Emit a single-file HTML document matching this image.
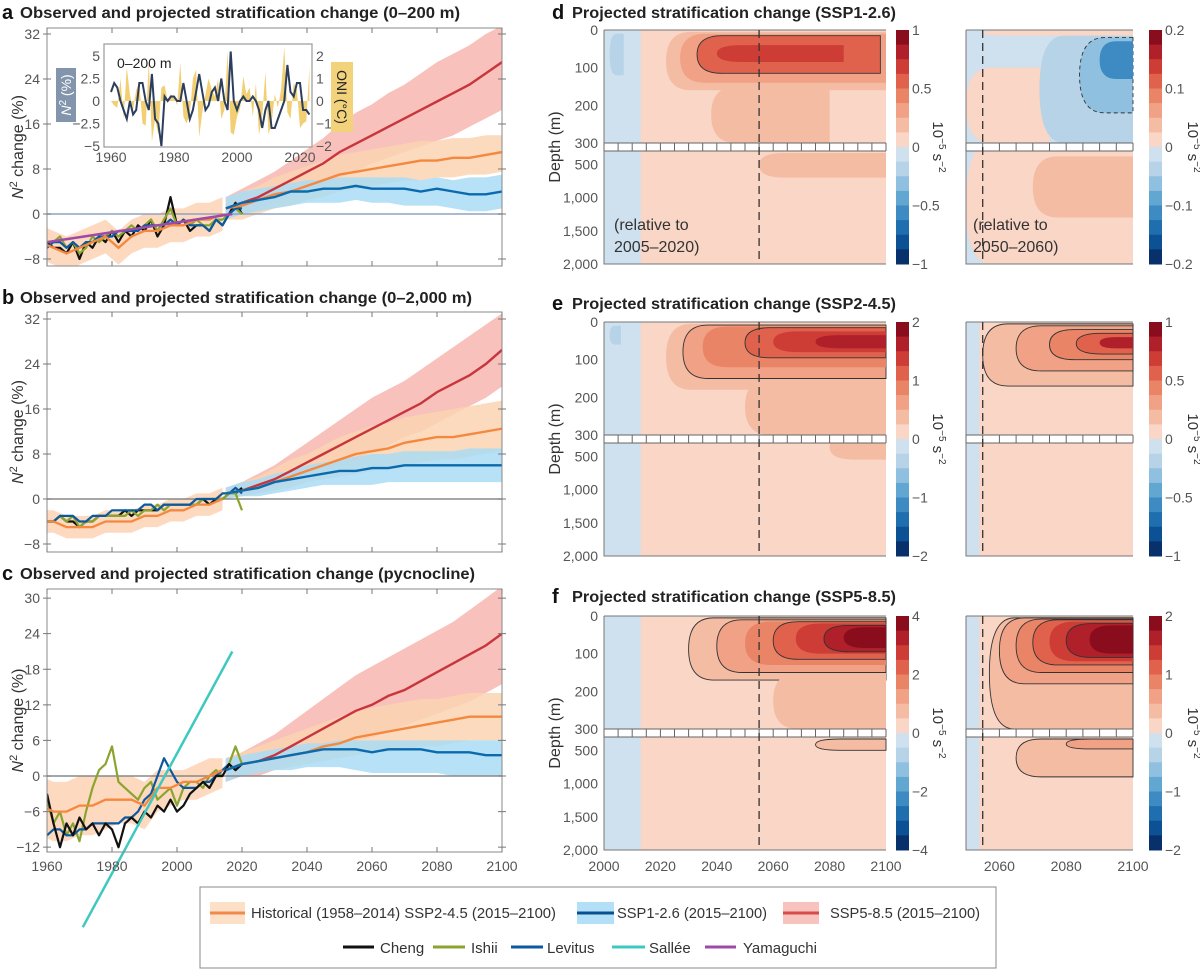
<!DOCTYPE html>
<html><head><meta charset="utf-8">
<style>
html,body{margin:0;padding:0;background:#fff;}
svg{display:block;font-family:"Liberation Sans",sans-serif;}
.tk{font-size:14px;fill:#555;}
.ttl{font-size:16px;font-weight:bold;fill:#222;}
.lt{font-size:20px;font-weight:bold;fill:#111;}
.lg{font-family:"Liberation Sans Narrow","Liberation Sans",sans-serif;font-size:15px;fill:#333;}
</style></head>
<body>
<svg id="fig" width="1200" height="973" viewBox="0 0 1200 973" xmlns="http://www.w3.org/2000/svg">
<defs>
<clipPath id="clipA"><rect x="47" y="28" width="455" height="238"/></clipPath>
<clipPath id="clipB"><rect x="47" y="312" width="455" height="240"/></clipPath>
<clipPath id="clipC"><rect x="47" y="589" width="455" height="263"/></clipPath>
<clipPath id="clipI"><rect x="104" y="44" width="208" height="103"/></clipPath>
</defs>
<!-- titles -->
<text class="lt" x="2" y="19">a</text>
<text class="ttl" x="20" y="18" textLength="440" lengthAdjust="spacingAndGlyphs">Observed and projected stratification change (0–200 m)</text>
<text class="lt" x="2" y="304">b</text>
<text class="ttl" x="20" y="303" textLength="452" lengthAdjust="spacingAndGlyphs">Observed and projected stratification change (0–2,000 m)</text>
<text class="lt" x="2" y="580">c</text>
<text class="ttl" x="20" y="579" textLength="455" lengthAdjust="spacingAndGlyphs">Observed and projected stratification change (pycnocline)</text>
<text class="lt" x="552" y="19">d</text>
<text class="ttl" x="572" y="18" textLength="324" lengthAdjust="spacingAndGlyphs">Projected stratification change (SSP1-2.6)</text>
<text class="lt" x="552" y="310">e</text>
<text class="ttl" x="572" y="309" textLength="324" lengthAdjust="spacingAndGlyphs">Projected stratification change (SSP2-4.5)</text>
<text class="lt" x="552" y="603">f</text>
<text class="ttl" x="572" y="602" textLength="324" lengthAdjust="spacingAndGlyphs">Projected stratification change (SSP5-8.5)</text>

<!-- legend -->
<g>
<rect x="200" y="887" width="796" height="81" fill="#fff" stroke="#888" stroke-width="1"/>
<g>
<rect x="210" y="902" width="35" height="22" fill="#fde0c8"/><line x1="210" y1="913" x2="245" y2="913" stroke="#f08a4b" stroke-width="3"/>
<text class="lg" x="251" y="918" textLength="305" lengthAdjust="spacingAndGlyphs">Historical (1958–2014) SSP2-4.5 (2015–2100)</text></g>
<g>
<rect x="577" y="902" width="37" height="22" fill="#b3e0f6"/><line x1="577" y1="913" x2="614" y2="913" stroke="#0b4f93" stroke-width="3"/>
<text class="lg" x="617" y="918" textLength="150" lengthAdjust="spacingAndGlyphs">SSP1-2.6 (2015–2100)</text></g>
<g>
<rect x="783" y="902" width="36" height="22" fill="#f8c3be"/><line x1="783" y1="913" x2="819" y2="913" stroke="#d94a4a" stroke-width="3"/>
<text class="lg" x="830" y="918" textLength="150" lengthAdjust="spacingAndGlyphs">SSP5-8.5 (2015–2100)</text></g>
<g><line x1="343" y1="947" x2="374" y2="947" stroke="#111" stroke-width="3"/><text class="lg" x="380" y="953">Cheng</text></g>
<g><line x1="433" y1="947" x2="465" y2="947" stroke="#8aa52f" stroke-width="3"/><text class="lg" x="471" y="953">Ishii</text></g>
<g><line x1="511" y1="947" x2="543" y2="947" stroke="#0b5aa0" stroke-width="3"/><text class="lg" x="547" y="953">Levitus</text></g>
<g><line x1="612" y1="947" x2="645" y2="947" stroke="#3ec9c0" stroke-width="3"/><text class="lg" x="649" y="953">Sallée</text></g>
<g><line x1="705" y1="947" x2="736" y2="947" stroke="#a04aa8" stroke-width="3"/><text class="lg" x="743" y="953">Yamaguchi</text></g>
</g>
</svg>
<script>
// ---------------- DATA ----------------
const obsYears=[1960,1962,1964,1966,1968,1970,1972,1974,1976,1978,1980,1982,1984,1986,1988,1990,1992,1994,1996,1998,2000,2002,2004,2006,2008,2010,2012,2014,2016,2018,2020];
const histYears=[1958,1962,1966,1970,1974,1978,1982,1986,1990,1994,1998,2002,2006,2010,2014];
const projYears=[2015,2020,2025,2030,2035,2040,2045,2050,2055,2060,2065,2070,2075,2080,2085,2090,2095,2100];

const aCheng=[-5,-6,-6,-7,-5,-8,-5,-6,-4,-5,-3,-5,-3,-4,-2,-3,-1,-4,-2,3,-2,-1,-3,-2,-2,-3,-1,-2,0,2,0];
const aIshii=[-5,-5,-4,-6,-5,-7,-6,-4,-5,-4,-3,-4,-3,-2,-3,-2,-1,-3,-1,1,-2,-1,-2,-1,-2,-2,-1,-1,0,1,0];
const aLevitus=[-6,-5,-5,-6,-5,-6,-5,-5,-4,-4,-4,-3,-3,-3,-3,-2,-2,-2,-2,-1,-2,-1,-2,-2,-2,-3,-1,-2,0,1,1];
const aYamaguchiYears=[1960,2017];
const aYamaguchi=[-5,0];
const aHist=[-5,-6,-7,-6,-5,-4,-6,-4,-3,-3,-2,-2,-1,-1,0];
const aHistHi=[-2,-3,-4,-3,-2,-1,-3,-1,0,0,1,1,2,2,3];
const aHistLo=[-8,-9,-10,-9,-8,-7,-9,-7,-6,-6,-5,-5,-4,-4,-3];
const a245=[1,1.5,2.5,3.5,4,5,6,7,7.5,8,8.5,9,9.5,9.5,10,10,10.5,11];
const a245Hi=[3,4,5,6.5,7.5,8.5,9.5,10.5,11,11.5,12,12.5,13,13,13.5,13.5,14,14];
const a245Lo=[-1,-1,0,1,1.5,2.5,3,4,4.5,5,5.5,6,6,6.5,6.5,7,7,7.5];
const a126=[1,2,2.5,3,4,4,4.5,4.5,5,4.5,4.5,4.5,4,4.5,4,3.5,3.5,4];
const a126Hi=[3,4,4.5,5,5.5,6,6,6.5,6.5,6.5,6.5,6.5,6,6.5,6,6.5,6.5,7];
const a126Lo=[-1,0,0.5,1,1.5,2,2,2,2.5,2,2,1.5,1.5,1.5,1,0.5,0.5,1];
const a585=[1,2,3,4.5,6,7.5,9,11,12.5,14,15.5,17,18.5,20,21.5,23,25,27];
const a585Hi=[3,4.5,6,7.5,9.5,11.5,13.5,16,18,19.5,21.5,23,25,27,28.5,30,32,33.5];
const a585Lo=[-1,0,1,2,3,4,5,6.5,7.5,9,10,11,12,13,14,15.5,17,18.5];

const bCheng=[-4,-4,-3,-4,-4,-5,-4,-4,-3,-3,-3,-3,-2,-3,-2,-2,-2,-2,-1,-1,-1,-1,-1,-1,0,-1,0,0,1,1,2];
const bIshii=[-4,-4,-3,-4,-3,-5,-4,-4,-3,-3,-3,-3,-3,-2,-3,-2,-2,-1,-2,-1,-1,-1,-1,-1,0,0,0,0,1,1,-2];
const bLevitus=[-4,-4,-3,-3,-3,-4,-4,-3,-3,-3,-2,-2,-2,-2,-2,-1,-1,-2,-1,-1,-1,-1,-1,0,0,0,0,1,1,2,1];
const bHist=[-4,-4,-5,-5,-5,-4,-4,-4,-3,-3,-2,-2,-1,-1,0];
const bHistHi=[-2,-2,-3,-3,-3,-2,-2,-2,-1,-1,0,0,1,1,2];
const bHistLo=[-6,-6,-7,-7,-7,-6,-6,-6,-5,-5,-4,-4,-3,-3,-2];
const b245=[1,1.5,2,3,4,5,6,7,8,8.5,9,10,10.5,11,11,11.5,12,12.5];
const b245Hi=[2,3,4,5.5,7,8,9.5,11,12,13,13.5,14.5,15,15.5,16,16.5,17,17.5];
const b245Lo=[0,0.5,1,1.5,2,3,3.5,4,4.5,5,5.5,6,6.5,7,7,7.5,8,8.5];
const b126=[1,1.5,2,3,3.5,4,4.5,5,5,5.5,5.5,6,6,6,6,6,6,6];
const b126Hi=[2,3,3.5,4.5,5,6,6.5,7,7.5,8,8,8.5,8.5,8.5,8.5,9,9,9];
const b126Lo=[0,0.5,0.5,1,1.5,2,2.5,2.5,2.5,2.5,3,3,3,3,3,3,3,3];
const b585=[1,1.5,2.5,3.5,5,6.5,8,9.5,11,12.5,14,15.5,17,19,20.5,22,24,26.5];
const b585Hi=[2,3,4.5,6,8,10,12,14,16,18,19.5,21,23,25,27,29,31,33];
const b585Lo=[0,0.5,1,2,3,4,5,6,7,8.5,9.5,11,12,13.5,15,16.5,18,20];

const cCheng=[-3,-8,-12,-8,-10,-7,-9,-8,-10,-8,-9,-12,-8,-7,-8,-6,-7,-5,-6,-4,-6,-5,-3,-2,-1,-2,0,0,2,1,2];
const cIshii=[-4,-8,-6,-10,-8,-11,-6,-2,1,2,5,-1,-2,-3,-4,-2,-1,-4,-3,-2,-5,-2,-1,-1,-2,0,1,0,2,5,2];
const cLevitus=[-10,-9,-9,-10,-10,-9,-9,-8,-8,-8,-8,-8,-7,-7,-6,-4,-3,0,3,1,-1,-2,-2,-2,-1,-1,0,1,2,1,2];
const cSalleeYears=[1971,2017];
const cSallee=[-25.5,21];
const cHist=[-5,-6,-6,-5,-5,-4,-4,-4,-5,-2,-2,-1,-1,0,1];
const cHistHi=[0,-1,-1,0,0,0,0,0,-1,1,1,1,2,3,3];
const cHistLo=[-10,-11,-11,-10,-10,-9,-8,-8,-9,-6,-5,-4,-4,-3,-2];
const c245=[1,2,2.5,3,3.5,4,5,5.5,6.5,7,7.5,8,8.5,9,9.5,10,10,10];
const c245Hi=[3,4,5,6,7,8,9,10,11,11.5,12,12.5,13,13,13.5,14,14,14];
const c245Lo=[-1,0,0.5,1,1.5,2,2.5,3,3.5,4,4,4.5,5,5,5.5,6,6,6];
const c126=[1,2,2.5,3,3.5,4,4.5,4.5,4.5,4,4.5,4.5,4.5,4,4,4,3.5,3.5];
const c126Hi=[3,3.5,4,4.5,5,5.5,5.5,6,6,6,6,6,6,6,6,6,6,6];
const c126Lo=[-1,0,0.5,1,1,1.5,1.5,1.5,1,0.5,0.5,0.5,0.5,0.5,0,0,0,0];
const c585=[1,2,2.5,3.5,5,6.5,8,9.5,11,12,13.5,14.5,16,17.5,19,20.5,22,24];
const c585Hi=[3,4,5.5,7,9,11,13,15,17,18.5,20,21.5,23,24.5,26,28,30,32];
const c585Lo=[-1,0,0,1,2,3,4,5,6,6.5,7.5,8.5,9.5,10.5,11.5,12.5,14,15.5];

const abTicks=[32,24,16,8,0,-8];
const cTicks=[30,24,18,12,6,0,-6,-12];
const yearTicks=[1960,1980,2000,2020,2040,2060,2080,2100];

const insetYears=[1960,1961,1962,1963,1964,1965,1966,1967,1968,1969,1970,1971,1972,1973,1974,1975,1976,1977,1978,1979,1980,1981,1982,1983,1984,1985,1986,1987,1988,1989,1990,1991,1992,1993,1994,1995,1996,1997,1998,1999,2000,2001,2002,2003,2004,2005,2006,2007,2008,2009,2010,2011,2012,2013,2014,2015,2016,2017,2018,2019,2020,2021,2022,2023];
const insetN2=[1,2,1.5,0,-1,-2,0,-1.5,-1,2,2,0,-1,3,-2,-2.5,-5,0.5,0,0.5,0.5,0,0,2,0,-2,-1,1,3,1,-1,-0.5,1,1.5,0,2.5,0,-1,5.5,0,-1,0,0.5,0,0,0.5,0,-1,-3,-1,0,-3,-3,-2,-1,0,4,1,0.5,2,2,-1,-1,-1.5];
const insetONI=[0,-0.2,-0.3,1,-0.8,1.5,0.3,-0.4,0.5,0.8,-1,-1.1,1.8,-1.8,-0.8,-1.5,0.6,0.7,0,0.3,0.2,-0.2,1.7,-0.7,-1,-0.6,1,1.4,-1.6,-0.5,0.3,1,0.5,0.2,1,-0.8,-0.4,2.2,-1.4,-1.5,-0.7,-0.3,1.1,0.3,0.6,-0.7,0.8,-1.5,-0.7,1.3,-1.5,-1,0.3,-0.3,0.5,2.4,-0.5,-0.8,0.8,0.5,-1.2,-1,-0.9,1.5];
const insetLeftTicks=[5,2.5,0,-2.5,-5];
const insetRightTicks=[2,1,0,-1,-2];
const insetYearTicks=[1960,1980,2000,2020];

// heatmap contour-level regions: [yearStart, yearEnd, depthTop, depthBottom, level, outline]
const dMain=[[2002,2007,10,120,-2,0],[2022,2100,5,160,1,0],[2038,2080,150,300,1,0],[2027,2100,10,140,2,0],[2033,2098,15,115,4,1],[2040,2085,40,85,5,0],[2055,2100,330,700,1,0]];
const dSmall=[[2055,2100,0,15,0,0],[2050,2075,100,300,0,0],[2050,2100,300,2000,0,0],[2070,2100,380,1300,1,0],[2072,2100,15,300,-2,0],[2084,2100,20,220,-3,1],[2090,2100,30,130,-5,0]];
const eMain=[[2002,2006,10,60,-2,0],[2022,2100,5,180,1,0],[2050,2100,150,300,1,0],[2028,2100,8,150,2,1],[2035,2100,12,120,3,0],[2050,2100,15,95,4,1],[2060,2100,25,80,5,0],[2075,2100,35,70,6,0],[2080,2100,300,550,1,0]];
const eSmall=[[2055,2100,5,170,1,1],[2065,2100,10,130,2,1],[2075,2100,20,100,3,1],[2083,2100,30,85,4,1],[2090,2100,40,70,6,0]];
const fMain=[[2030,2100,5,170,1,1],[2060,2100,150,300,1,0],[2040,2100,10,150,2,1],[2050,2100,15,130,3,0],[2060,2100,15,115,4,1],[2068,2100,20,100,5,0],[2078,2100,25,95,6,1],[2085,2100,30,85,7,0],[2075,2100,330,500,1,1]];
const fSmall=[[2057,2100,5,300,1,1],[2060,2100,5,180,2,1],[2065,2100,8,150,3,1],[2070,2100,10,130,4,1],[2075,2100,15,120,5,0],[2080,2100,20,110,6,1],[2087,2100,25,100,7,0],[2065,2100,330,900,1,1],[2080,2100,330,480,2,1]];
const mainCbTicks={d:[1,0.5,0,-0.5,-1],e:[2,1,0,-1,-2],f:[4,2,0,-2,-4]};
const smallCbTicks={d:[0.2,0.1,0,-0.1,-0.2],e:[1,0.5,0,-0.5,-1],f:[2,1,0,-1,-2]};
const depthUpperTicks=[0,100,200,300];
const depthLowerTicks=[500,1000,1500,2000];
const mainYearTicks=[2000,2020,2040,2060,2080,2100];
const smallYearTicks=[2060,2080,2100];

// ---------------- DRAWING ----------------
const NS='http://www.w3.org/2000/svg';
const svg=document.getElementById('fig');
function mk(tag,attrs,parent){const e=document.createElementNS(NS,tag);for(const k in attrs)e.setAttribute(k,attrs[k]);(parent||svg).appendChild(e);return e;}
function linePath(xs,ys,X,Y){return xs.map((x,i)=>(i?'L':'M')+X(x).toFixed(1)+','+Y(ys[i]).toFixed(1)).join('');}
function bandPath(xs,lo,hi,X,Y){let d='';xs.forEach((x,i)=>{d+=(i?'L':'M')+X(x).toFixed(1)+','+Y(hi[i]).toFixed(1);});for(let i=xs.length-1;i>=0;i--)d+='L'+X(xs[i]).toFixed(1)+','+Y(lo[i]).toFixed(1);return d+'Z';}
function fmt(n){return n<0?'\u2212'+Math.abs(n).toLocaleString('en-US'):n.toLocaleString('en-US');}

const xL=y=>47+(y-1960)*3.25;
const panels={
 a:{top:28,bot:266,zero:214,k:5.625,clip:'clipA',ticks:abTicks,zc:'#8fa3bf',
    hist:[aHist,aHistLo,aHistHi],s245:[a245,a245Lo,a245Hi],s126:[a126,a126Lo,a126Hi],s585:[a585,a585Lo,a585Hi],
    obs:[['cheng',aCheng,'#111'],['ishii',aIshii,'#8aa52f'],['levitus',aLevitus,'#0b5aa0']]},
 b:{top:312,bot:552,zero:499,k:5.625,clip:'clipB',ticks:abTicks,zc:'#888',
    hist:[bHist,bHistLo,bHistHi],s245:[b245,b245Lo,b245Hi],s126:[b126,b126Lo,b126Hi],s585:[b585,b585Lo,b585Hi],
    obs:[['cheng',bCheng,'#111'],['ishii',bIshii,'#8aa52f'],['levitus',bLevitus,'#0b5aa0']]},
 c:{top:589,bot:852,zero:776,k:5.93,clip:'clipC',ticks:cTicks,zc:'#888',
    hist:[cHist,cHistLo,cHistHi],s245:[c245,c245Lo,c245Hi],s126:[c126,c126Lo,c126Hi],s585:[c585,c585Lo,c585Hi],
    obs:[['ishii',cIshii,'#8aa52f'],['levitus',cLevitus,'#0b5aa0'],['cheng',cCheng,'#111']]}
};
for(const key in panels){
 const P=panels[key];
 const Y=v=>P.zero-v*P.k;
 const g=mk('g',{});
 
 
 const gc=mk('g',{'clip-path':'url(#'+P.clip+')'},g);
 let e;
 e=mk('path',{d:bandPath(projYears,P.s585[1],P.s585[2],xL,Y),fill:'#f7bab4',opacity:0.9},gc);
 
 
 e=mk('path',{d:bandPath(projYears,P.s245[1],P.s245[2],xL,Y),fill:'#fcd3b3',opacity:0.85},gc);
 
 
 e=mk('path',{d:bandPath(projYears,P.s126[1],P.s126[2],xL,Y),fill:'#a9dcf5',opacity:0.85},gc);
 
 
 e=mk('path',{d:bandPath(histYears,P.hist[1],P.hist[2],xL,Y),fill:'#fdd5b8',opacity:0.9},gc);
 
 
 e=mk('line',{x1:47,x2:502,y1:Y(0),y2:Y(0),stroke:P.zc,'stroke-width':1.5},gc);
 
 
 P.obs.forEach(o=>{
  const ln=mk('path',{d:linePath(obsYears,o[1],xL,Y),fill:'none',stroke:o[2],'stroke-width':2.2,'stroke-linejoin':'round'},gc);
  
  
 });
 e=mk('path',{d:linePath(histYears,P.hist[0],xL,Y),fill:'none',stroke:'#f5883f','stroke-width':2.3},gc);
 
 
 if(key==='a'){
  e=mk('path',{d:linePath(aYamaguchiYears,aYamaguchi,xL,Y),fill:'none',stroke:'#a04aa8','stroke-width':2.5},gc);
  
  
 }
 e=mk('path',{d:linePath(projYears,P.s585[0],xL,Y),fill:'none',stroke:'#c8353c','stroke-width':2.4},gc);
 
 
 e=mk('path',{d:linePath(projYears,P.s245[0],xL,Y),fill:'none',stroke:'#f5883f','stroke-width':2.4},gc);
 
 
 e=mk('path',{d:linePath(projYears,P.s126[0],xL,Y),fill:'none',stroke:'#0a6aad','stroke-width':2.4},gc);
 
 
 if(key==='c'){
  e=mk('path',{d:linePath(cSalleeYears,cSallee,xL,Y),fill:'none',stroke:'#3ec9c0','stroke-width':2.5},g);
  
  
 }
 e=mk('rect',{x:47,y:P.top,width:455,height:P.bot-P.top,fill:'none',stroke:'#888','stroke-width':1},g);
 
 
 P.ticks.forEach(t=>{
  const tl=mk('text',{x:40,y:Y(t)+5,'text-anchor':'end',class:'tk'},g);
  tl.textContent=fmt(t);
  
  
  const tm=mk('path',{d:'M43,'+Y(t)+'H51M498,'+Y(t)+'H506',stroke:'#777','stroke-width':1},g);
  
  
 });
 yearTicks.forEach(t=>{
  const tm=mk('path',{d:'M'+xL(t)+','+P.bot+'v-5M'+xL(t)+','+P.top+'v5',stroke:'#777','stroke-width':1},g);
  
  
  if(key==='c'){
   const tl=mk('text',{x:xL(t),y:871,'text-anchor':'middle',class:'tk'},g);
   tl.textContent=t;
   
   
  }
 });
 const yt=mk('text',{x:0,y:0,'text-anchor':'middle',transform:'translate(23,'+((P.top+P.bot)/2)+') rotate(-90)',style:'font-size:16px;fill:#333'},g);
 yt.innerHTML='<tspan font-style="italic">N</tspan><tspan dy="-6" font-size="11">2</tspan><tspan dy="6"> change (%)</tspan>';
 
 
}

// ---- inset ----
(function(){
 const X=y=>111+(y-1960)*3.15;
 const YN=v=>101-v*9;
 const YO=v=>101-v*22.5;
 const g=mk('g',{});
 
 
 let e=mk('rect',{x:104,y:44,width:208,height:103,fill:'#fff',stroke:'#999','stroke-width':1.2},g);
 
 
 const gc=mk('g',{'clip-path':'url(#clipI)'},g);
 let d='M'+X(insetYears[0])+','+YO(0);
 insetYears.forEach((y,i)=>{d+='L'+X(y).toFixed(1)+','+YO(insetONI[i]).toFixed(1);});
 d+='L'+X(insetYears[insetYears.length-1])+','+YO(0)+'Z';
 e=mk('path',{d:d,fill:'#f1cf72'},gc);
 
 
 e=mk('path',{d:linePath(insetYears,insetN2,X,YN),fill:'none',stroke:'#2c3e5e','stroke-width':2},gc);
 
 
 insetLeftTicks.forEach(t=>{
  const tl=mk('text',{x:100,y:YN(t)+5,'text-anchor':'end',class:'tk'},g);
  tl.textContent=fmt(t);
  
  
 });
 insetRightTicks.forEach(t=>{
  const tl=mk('text',{x:316,y:YO(t)+5,class:'tk'},g);
  tl.textContent=fmt(t);
  
  
 });
 insetYearTicks.forEach(t=>{
  const tl=mk('text',{x:X(t),y:162,'text-anchor':'middle',class:'tk'},g);
  tl.textContent=t;
  
  
 });
 const lab=mk('text',{x:117,y:68,style:'font-size:14px;fill:#222'},g);
 lab.textContent='0–200 m';
 
 
 e=mk('rect',{x:56,y:68,width:20,height:54,fill:'#8394ad'},g);
 
 
 const t1=mk('text',{transform:'translate(71,95) rotate(-90)','text-anchor':'middle',style:'font-size:14px;fill:#fff'},g);
 t1.innerHTML='<tspan font-style="italic">N</tspan><tspan dy="-5" font-size="10">2</tspan><tspan dy="5"> (%)</tspan>';
 
 
 e=mk('rect',{x:331,y:62,width:22,height:70,fill:'#f2d27a'},g);
 
 
 const t2=mk('text',{transform:'translate(337,97) rotate(90)','text-anchor':'middle',style:'font-size:14px;fill:#222'},g);
 t2.textContent='ONI (°C)';
 
 
})();

// ---- heatmaps ----
const POS=['#f9d6c6','#f5bca4','#f1a185','#ea8467','#e0624d','#cd3d36','#b0202a','#8a0d1e'];
const NEG=['#cfe0ee','#b6d3e8','#90c0df','#62a6d2','#3d8bc2','#1f6eae','#0b5194','#08306b'];
function lvColor(l){return l>=0?POS[l]:NEG[-l-1];}
function heat(key,kind,T,x0,x1,y0yr,y1yr,regions,blueEnd,cbX,ticks){
 const X=y=>x0+(y-y0yr)/(y1yr-y0yr)*(x1-x0);
 const DU=d=>T+d/300*113;
 const DL=d=>T+121+(d-300)/1700*113;
 const D=d=>d<=300?DU(d):DL(d);
 const g=mk('g',{});
 
 
 [[T,T+113],[T+121,T+234]].forEach((s,i)=>{
  let e=mk('rect',{x:x0,y:s[0],width:x1-x0,height:s[1]-s[0],fill:kind==='small'&&key==='d'?NEG[0]:POS[0]},g);
  
  
  e=mk('rect',{x:x0,y:s[0],width:X(blueEnd)-x0,height:s[1]-s[0],fill:NEG[0]},g);
  
  
 });
 regions.forEach(r=>{
  const xa=X(r[0]),xb=X(r[1]),ya=D(r[2]),yb=D(r[3]);
  const rr=Math.min(25,(xb-xa)/2),ym=(ya+yb)/2;
  const d='M'+xb+','+ya+'L'+(xa+rr)+','+ya+'Q'+xa+','+ya+' '+xa+','+ym+'Q'+xa+','+yb+' '+(xa+rr)+','+yb+'L'+xb+','+yb+'Z';
  const e=mk('path',{d:d,fill:lvColor(r[4]),stroke:r[5]?'#333':'none','stroke-width':0.9,'stroke-dasharray':r[4]<0?'4,3':'none'},g);
  
  
 });
 let e=mk('rect',{x:x0-1,y:T+113,width:x1-x0+2,height:8,fill:'#fff'},g);
 
 
 let tk='';
 for(let y=y0yr;y<=y1yr;y+=5){tk+='M'+X(y)+','+(T+113)+'v4M'+X(y)+','+(T+121)+'v-4';}
 e=mk('path',{d:tk+'M'+x0+','+(T+113)+'H'+x1+'M'+x0+','+(T+121)+'H'+x1,stroke:'#666','stroke-width':1},g);
 
 
 e=mk('path',{d:'M'+x0+','+T+'V'+(T+113)+'M'+x0+','+(T+121)+'V'+(T+234)+'H'+x1+'M'+x0+','+T+'H'+x1,stroke:'#777',fill:'none','stroke-width':1},g);
 
 
 e=mk('line',{x1:X(2055),x2:X(2055),y1:T,y2:T+234,stroke:'#333','stroke-width':1.3,'stroke-dasharray':'8,5'},g);
 
 
 if(kind==='main'){
  depthUpperTicks.forEach(t=>{const tl=mk('text',{x:x0-6,y:DU(t)+5,'text-anchor':'end',class:'tk'},g);tl.textContent=fmt(t);
   
   });
  depthLowerTicks.forEach(t=>{const tl=mk('text',{x:x0-6,y:DL(t)+5,'text-anchor':'end',class:'tk'},g);tl.textContent=fmt(t);
   
   });
  const yt=mk('text',{transform:'translate(560,'+(T+117)+') rotate(-90)','text-anchor':'middle',style:'font-size:16px;fill:#333'},g);
  yt.textContent='Depth (m)';
  
  
 }
 if(key==='f'){
  (kind==='main'?mainYearTicks:smallYearTicks).forEach(t=>{const tl=mk('text',{x:X(t),y:871,'text-anchor':'middle',class:'tk'},g);tl.textContent=t;
   
   });
 }
 if(key==='d'){
  const r1=mk('text',{x:kind==='main'?614:973,y:T+200,style:'font-size:16px;fill:#333'},g);
  r1.textContent='(relative to';
  
  
  const r2=mk('text',{x:kind==='main'?614:973,y:T+222,style:'font-size:16px;fill:#333'},g);
  r2.textContent=kind==='main'?'2005–2020)':'2050–2060)';
  
  
 }
 const cg=mk('g',{},g);
 
 
 const h=234/16;
 for(let i=0;i<16;i++){
  const col=i<8?POS[7-i]:NEG[i-8];
  const r=mk('rect',{x:cbX,y:T+i*h,width:13,height:h+0.5,fill:col},cg);
  
  
 }
 ticks.forEach((t,i)=>{
  const tl=mk('text',{x:cbX+16,y:T+i*234/4+5,class:'tk'},cg);
  tl.textContent=fmt(t);
  
  
 });
 const u=mk('text',{transform:'translate('+(cbX+(kind==='main'?37:39))+','+(T+117)+') rotate(90)','text-anchor':'middle',style:'font-size:15px;fill:#333'},cg);
 u.innerHTML='10<tspan dy="-6" font-size="10">\u22125</tspan><tspan dy="6"> s</tspan><tspan dy="-6" font-size="10">\u22122</tspan>';
 
 
}
const TOPS={d:30,e:322,f:616};
const REG={d:[dMain,dSmall],e:[eMain,eSmall],f:[fMain,fSmall]};
for(const k in TOPS){
 heat(k,'main',TOPS[k],604,886,2000,2100,REG[k][0],2013,896,mainCbTicks[k]);
 heat(k,'small',TOPS[k],966,1133,2050,2100,REG[k][1],2054,1149,smallCbTicks[k]);
}
</script>
</body></html>
